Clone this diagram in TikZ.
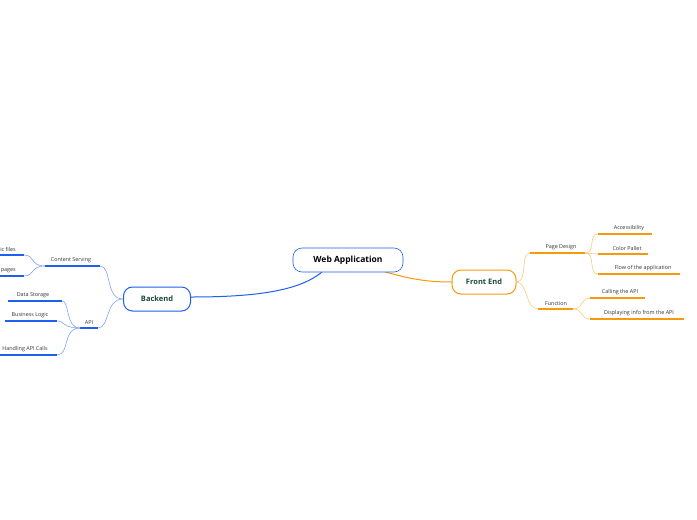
\documentclass[tikz,border=0pt]{standalone}
\usepackage{fontspec}
\setmainfont{Open Sans}
\definecolor{bl}{HTML}{1F5FEF}
\definecolor{lightbl}{HTML}{7FA5F5}
\definecolor{og}{HTML}{F59A0C}
\definecolor{lightog}{HTML}{F8CB80}
\definecolor{dg}{HTML}{1B4A3A}
\tikzset{x=1pt,y=-1pt,
 lbl/.style={font=\fontsize{5.4}{6}\selectfont,text=black!80,inner sep=0pt},
 ubl/.style={draw=bl,line width=1.2pt},
 uog/.style={draw=og,line width=1.2pt},
 cbl/.style={draw=lightbl,line width=0.6pt},
 cog/.style={draw=lightog,line width=0.6pt},
 main/.style={rounded corners=9pt,minimum height=24pt,font=\bfseries\fontsize{7.5}{9}\selectfont,text=dg,fill=white}}
\begin{document}
\begin{tikzpicture}
\useasboundingbox[fill=white] (0,0) rectangle (697,520);
\coordinate (wb) at (322,272);
\coordinate (wf) at (385,272);
\draw[draw=bl,line width=1pt] (191,297) .. controls (260,297) and (300,290) .. (wb);
\draw[draw=og,line width=1pt] (452,282) .. controls (420,282) and (405,277) .. (wf);
% main nodes
\node[main,draw=bl,line width=0.6pt,minimum width=110pt,text=black,font=\bfseries\fontsize{8.5}{10}\selectfont] (web) at (348,260) {Web Application};
\node[main,draw=bl,line width=1pt,minimum width=67pt] (be) at (157,299) {Backend};
\node[main,draw=og,line width=1pt,minimum width=64pt] (fe) at (484,282) {Front End};
% backend children
\node[lbl,anchor=south] (cs) at (71,263) {Content Serving};
\draw[ubl] (45,266) coordinate (csl) -- (100,266) coordinate (csr);
\node[lbl,anchor=south] (api) at (89,325) {API};
\draw[ubl] (80,328) coordinate (apil) -- (98,328) coordinate (apir);
\coordinate (bel) at (be.west);
\draw[cbl] (bel) .. controls (105,299) and (112,266) .. (csr);
\draw[cbl] (bel) .. controls (105,299) and (110,328) .. (apir);
\node[lbl,anchor=south east] (sf) at (16,252) {Static files};
\draw[ubl] (0,255) coordinate (sfl) -- (24,255) coordinate (sfr);
\node[lbl,anchor=south east] (hp) at (16,273) {HTML pages};
\draw[ubl] (0,276) coordinate (hpl) -- (24,276) coordinate (hpr);
\draw[cbl] (csl) .. controls (30,266) and (35,255) .. (sfr);
\draw[cbl] (csl) .. controls (30,266) and (35,276) .. (hpr);
\node[lbl,anchor=south] (ds) at (33,298) {Data Storage};
\draw[ubl] (8,301) coordinate (dsl) -- (62,301) coordinate (dsr);
\node[lbl,anchor=south] (bl2) at (30,318) {Business Logic};
\draw[ubl] (5,321) coordinate (bll) -- (57,321) coordinate (blr);
\node[lbl,anchor=south] (ha) at (25,352) {Handling API Calls};
\draw[ubl] (0,355) coordinate (hal) -- (57,355) coordinate (har);
\draw[cbl] (apil) .. controls (65,328) and (70,301) .. (dsr);
\draw[cbl] (apil) .. controls (62,328) and (65,321) .. (blr);
\draw[cbl] (apil) .. controls (62,328) and (70,355) .. (har);
% frontend children
\node[lbl,anchor=south] (pd) at (561,250) {Page Design};
\draw[uog] (530,253) coordinate (pdl) -- (585,253) coordinate (pdr);
\node[lbl,anchor=south] (fn) at (556,306) {Function};
\draw[uog] (538,309) coordinate (fnl) -- (573,309) coordinate (fnr);
\coordinate (fer) at (fe.east);
\draw[cog] (fer) .. controls (528,282) and (520,253) .. (pdl);
\draw[cog] (fer) .. controls (528,282) and (525,309) .. (fnl);
\node[lbl,anchor=south] (ac) at (629,231) {Accessibility};
\draw[uog] (598,234) coordinate (acl) -- (652,234);
\node[lbl,anchor=south] (cp) at (627,251) {Color Pallet};
\draw[uog] (598,254) coordinate (cpl) -- (648,254);
\node[lbl,anchor=south] (fl) at (643,271) {Flow of the application};
\draw[uog] (598,274) coordinate (fll) -- (680,274);
\draw[cog] (pdr) .. controls (596,253) and (588,234) .. (acl);
\draw[cog] (pdr) -- (cpl);
\draw[cog] (pdr) .. controls (596,253) and (588,274) .. (fll);
\node[lbl,anchor=south] (ca) at (620,295) {Calling the API};
\draw[uog] (590,298) coordinate (cal) -- (645,298);
\node[lbl,anchor=south] (di) at (639,316) {Displaying info from the API};
\draw[uog] (590,319) coordinate (dil) -- (684,319);
\draw[cog] (fnr) .. controls (584,309) and (580,298) .. (cal);
\draw[cog] (fnr) .. controls (584,309) and (580,319) .. (dil);
\end{tikzpicture}
\end{document}
